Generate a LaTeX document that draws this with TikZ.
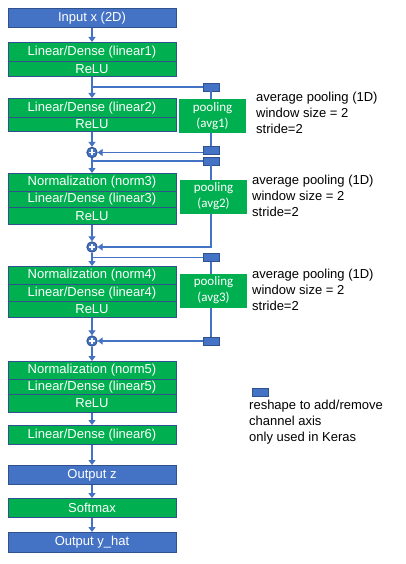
\documentclass[tikz,border=0pt]{standalone}
\usepackage{fontspec}
\setmainfont{Liberation Sans}
\newfontfamily\calibri{Carlito}
\usetikzlibrary{arrows.meta}
\definecolor{kgreen}{HTML}{00B050}
\definecolor{kblue}{HTML}{4472C4}
\definecolor{kdark}{HTML}{2F528F}
\begin{document}
\begin{tikzpicture}[x=1pt,y=-1pt, font=\fontsize{13}{16}\selectfont,
 layer/.style={draw=kdark, line width=0.8pt, fill=kgreen, text=white, minimum width=168pt, inner sep=0pt, anchor=north},
 io/.style={layer, fill=kblue},
 pool/.style={fill=kgreen, text=white, minimum width=67pt, minimum height=34pt, inner sep=0pt, align=center, font=\calibri\fontsize{13}{16}\selectfont},
 rs/.style={draw=kdark, line width=0.6pt, fill=kblue, minimum width=16pt, minimum height=8pt, inner sep=0pt},
 plus/.style={circle, draw=kdark, line width=0.8pt, fill=kblue, minimum size=10.5pt, inner sep=0pt,
   path picture={\draw[white, line width=1.1pt] ([xshift=-3pt]path picture bounding box.center) -- ([xshift=3pt]path picture bounding box.center);
                 \draw[white, line width=1.1pt] ([yshift=-3pt]path picture bounding box.center) -- ([yshift=3pt]path picture bounding box.center);}},
 conn/.style={draw=kblue, line width=1.3pt},
 arr/.style={conn, -{Triangle[width=7pt,length=5pt]}},
 note/.style={align=left, anchor=west, inner sep=0pt, text=black}]
\useasboundingbox (0,0) rectangle (406,564);
\fill[white] (0,0) rectangle (406,564);

% main column
\node[io, minimum height=19pt] (in) at (92,8) {Input x (2D)};
\node[layer, minimum height=19pt] (b1a) at (92,42) {Linear/Dense (linear1)};
\node[layer, minimum height=15pt] (b1b) at (92,61) {ReLU};
\node[layer, minimum height=19pt] (b2a) at (92,98) {Linear/Dense (linear2)};
\node[layer, minimum height=14pt] (b2b) at (92,117) {ReLU};
\node[layer, minimum height=18pt] (b3a) at (92,173) {Normalization (norm3)};
\node[layer, minimum height=16pt] (b3b) at (92,191) {Linear/Dense (linear3)};
\node[layer, minimum height=17pt] (b3c) at (92,207) {ReLU};
\node[layer, minimum height=18pt] (b4a) at (92,266) {Normalization (norm4)};
\node[layer, minimum height=17pt] (b4b) at (92,284) {Linear/Dense (linear4)};
\node[layer, minimum height=16pt] (b4c) at (92,301) {ReLU};
\node[layer, minimum height=18pt] (b5a) at (92,361) {Normalization (norm5)};
\node[layer, minimum height=15pt] (b5b) at (92,379) {Linear/Dense (linear5)};
\node[layer, minimum height=18pt] (b5c) at (92,394) {ReLU};
\node[layer, minimum height=19pt] (b6) at (92,425) {Linear/Dense (linear6)};
\node[io, minimum height=19pt] (outz) at (92,465) {Output z};
\node[layer, minimum height=19pt] (soft) at (92,498) {Softmax};
\node[io, minimum height=20pt] (yhat) at (92,532) {Output y\_hat};

% add nodes
\node[plus] (c1) at (92,152.5) {};
\node[plus] (c2) at (92,247) {};
\node[plus] (c3) at (92,341) {};

% reshape nodes
\node[rs] (r1) at (211,87) {};
\node[rs] (r2) at (211,150.7) {};
\node[rs] (r3) at (211,161) {};
\node[rs] (r4) at (211,257.5) {};
\node[rs] (r5) at (211,341) {};

% connectors
\draw[arr] (in.south) -- (b1a.north);
\draw[arr] (b1b.south) -- (b2a.north);
\draw[conn] (b1b.south |- r1) -- (r1.west);
\draw[conn] (r1.south) -- (r2.north);
\draw[arr] (r2.west |- c1.east) -- (c1.east);
\draw[arr] (b2b.south) -- (c1.north);
\draw[arr] (c1.south) -- (b3a.north);
\draw[conn] (c1.south |- r3) -- (r3.west);
\draw[arr] (r3.south) |- (c2.east);
\draw[arr] (b3c.south) -- (c2.north);
\draw[arr] (c2.south) -- (b4a.north);
\draw[conn] (c2.south |- r4) -- (r4.west);
\draw[conn] (r4.south) -- (r5.north);
\draw[arr] (r5.west) -- (c3.east);
\draw[arr] (b4c.south) -- (c3.north);
\draw[arr] (c3.south) -- (b5a.north);
\draw[arr] (b5c.south) -- (b6.north);
\draw[arr] (b6.south) -- (outz.north);
\draw[arr] (outz.south) -- (soft.north);
\draw[arr] (soft.south) -- (yhat.north);

% pooling nodes (on top of the vertical lines)
\node[pool] (p1) at (212.5,116) {pooling\\(avg1)};
\node[pool] (p2) at (213.5,196.5) {pooling\\(avg2)};
\node[pool] (p3) at (213.5,290.5) {pooling\\(avg3)};

% notes
\node[note] (n1) at (256,113) {average pooling (1D)\\window size = 2\\stride=2};
\node[note] (n2) at (252,196) {average pooling (1D)\\window size = 2\\stride=2};
\node[note] (n3) at (252,289.5) {average pooling (1D)\\window size = 2\\stride=2};

% legend
\node[rs] (lg) at (260,392) {};
\node[note] (lt) at (249,422.5) {reshape to add/remove\\channel axis\\only used in Keras};
\end{tikzpicture}
\end{document}
